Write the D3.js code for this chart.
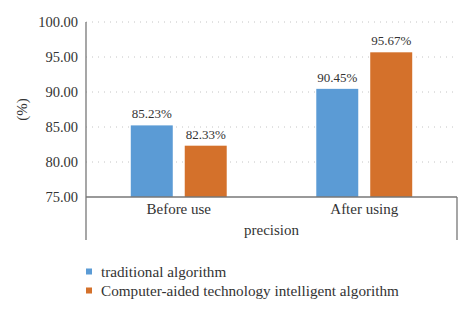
<!DOCTYPE html>
<html>
<head>
<meta charset="utf-8">
<script src="https://cdn.jsdelivr.net/npm/d3@7"></script>
<style>
  body { margin: 0; background: #fff; }
  svg { display: block; font-family: "Liberation Serif", "DejaVu Serif", serif; }
</style>
</head>
<body>
<div id="chart"></div>
<script>
// Datos
const categories = ['Before use', 'After using'];
const seriesNames = ['traditional algorithm', 'Computer-aided technology intelligent algorithm'];
const traditional = [85.23, 90.45];
const computerAided = [82.33, 95.67];
const yTicks = [75, 80, 85, 90, 95, 100];

const colors = ['#5b9bd5', '#d4712b'];
const W = 474, H = 315;
const plotLeft = 86, plotRight = 457, plotTop = 22, plotBottom = 197;

const svg = d3.select('#chart').append('svg')
    .attr('width', W).attr('height', H);

// Escalas
const x0 = d3.scaleBand().domain(categories).range([plotLeft, plotRight]).padding(0);
const x1 = d3.scaleBand().domain(seriesNames).range([0, x0.bandwidth()])
    .paddingInner(0.222).paddingOuter(0.83);
const y = d3.scaleLinear().domain([75, 100]).range([plotBottom, plotTop]);

// Rejilla punteada
svg.append('g')
    .selectAll('line')
    .data(yTicks.filter(t => t > 75))
    .join('line')
    .attr('x1', plotLeft).attr('x2', plotRight)
    .attr('y1', d => y(d)).attr('y2', d => y(d))
    .attr('stroke', '#c4c4c4').attr('stroke-width', 1)
    .attr('stroke-dasharray', '1,5');

// Eje Y
const yAxis = svg.append('g')
    .attr('transform', `translate(${plotLeft},0)`)
    .call(d3.axisLeft(y).tickValues(yTicks).tickFormat(d3.format('.2f')).tickSize(0).tickPadding(8));
yAxis.select('.domain').remove();
yAxis.selectAll('text')
    .attr('font-size', '14.5px').attr('fill', '#333')
    .attr('font-family', '"Liberation Serif", serif');

svg.append('text')
    .attr('transform', `translate(27,${(plotTop + plotBottom) / 2}) rotate(-90)`)
    .attr('text-anchor', 'middle')
    .attr('font-size', '15px').attr('fill', '#333')
    .text('(%)');

// Barras
const rows = categories.map((c, i) => ({ cat: c, values: [traditional[i], computerAided[i]] }));

const groups = svg.append('g')
    .selectAll('g')
    .data(rows)
    .join('g')
    .attr('transform', d => `translate(${x0(d.cat)},0)`);

groups.selectAll('rect')
    .data(d => d.values.map((v, j) => ({ name: seriesNames[j], v, j })))
    .join('rect')
    .attr('x', d => x1(d.name))
    .attr('y', d => y(d.v))
    .attr('width', x1.bandwidth())
    .attr('height', d => y(75) - y(d.v))
    .attr('fill', d => colors[d.j]);

groups.selectAll('text')
    .data(d => d.values.map((v, j) => ({ name: seriesNames[j], v, j })))
    .join('text')
    .attr('x', d => x1(d.name) + x1.bandwidth() / 2)
    .attr('y', d => y(d.v) - 7)
    .attr('text-anchor', 'middle')
    .attr('font-size', '13px').attr('fill', '#333')
    .text(d => d.v.toFixed(2) + '%');

// Ejes (línea base y verticales de agrupación)
const axisColor = '#777';
svg.append('line')
    .attr('x1', plotLeft).attr('x2', plotRight)
    .attr('y1', y(75)).attr('y2', y(75))
    .attr('stroke', axisColor).attr('stroke-width', 1.3);
svg.append('line')
    .attr('x1', plotLeft).attr('x2', plotLeft)
    .attr('y1', plotTop).attr('y2', 240)
    .attr('stroke', axisColor).attr('stroke-width', 1.3);
svg.append('line')
    .attr('x1', plotRight).attr('x2', plotRight)
    .attr('y1', y(75)).attr('y2', 240)
    .attr('stroke', axisColor).attr('stroke-width', 1.3);

svg.append('g')
    .selectAll('text')
    .data(categories)
    .join('text')
    .attr('x', d => x0(d) + x0.bandwidth() / 2)
    .attr('y', 214)
    .attr('text-anchor', 'middle')
    .attr('font-size', '15px').attr('fill', '#333')
    .text(d => d);

svg.append('text')
    .attr('x', (plotLeft + plotRight) / 2).attr('y', 235)
    .attr('text-anchor', 'middle')
    .attr('font-size', '15px').attr('fill', '#333')
    .text('precision');

// Leyenda
const legend = svg.append('g')
    .selectAll('g')
    .data(seriesNames)
    .join('g')
    .attr('transform', (d, i) => `translate(86,${272 + i * 19})`);

legend.append('rect')
    .attr('x', 0).attr('y', -3.5)
    .attr('width', 6).attr('height', 6)
    .attr('fill', (d, i) => colors[i]);

legend.append('text')
    .attr('x', 15).attr('y', 4.5)
    .attr('font-size', '15.2px').attr('fill', '#333')
    .text(d => d);
</script>
</body>
</html>
